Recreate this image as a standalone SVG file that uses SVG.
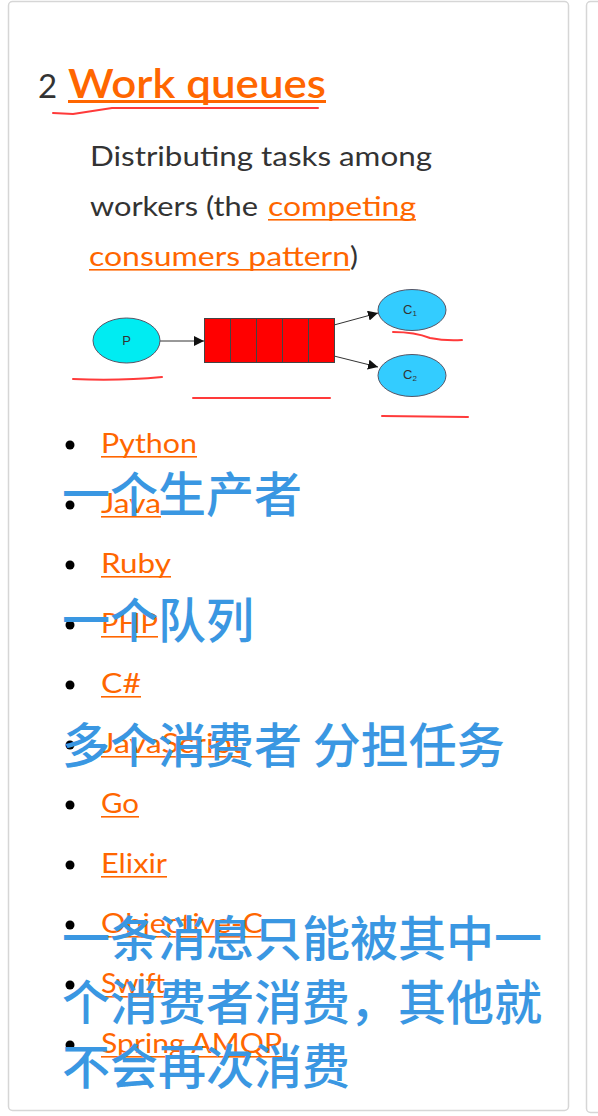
<svg xmlns="http://www.w3.org/2000/svg" width="598" height="1116" viewBox="0 0 598 1116">
<style>
.lat{font-family:"Lato","Liberation Sans",sans-serif}
.dark{fill:#333}
.link{fill:#ff6600}
.ul{fill:#ff6600}
.bul{fill:#000}
.cjk{font-family:"Noto Sans CJK SC","Noto Sans CJK JP",sans-serif;font-size:48px;font-weight:500;fill:#3a97e2}
.red{fill:none;stroke:#ff3a3a;stroke-width:2;stroke-linecap:round;stroke-linejoin:round}
.conn{stroke:#333;stroke-width:1;fill:none}
.lbl{font-family:"Liberation Sans",sans-serif;font-size:13px;fill:#333;text-anchor:middle}
</style>
<defs>
<marker id="ah" viewBox="0 0 10 10" refX="10" refY="5" markerWidth="10" markerHeight="10" markerUnits="userSpaceOnUse" orient="auto">
<path d="M0,0 L10,5 L0,10 z" fill="#111"/>
</marker>
</defs>
<rect x="0" y="0" width="598" height="1116" fill="#fff"/>
<g id="cards">
<rect x="8.5" y="1.5" width="560" height="1109" rx="4" fill="#fff" stroke="#d6d6d6" stroke-width="1.5"/>
<rect x="586.5" y="1.5" width="40" height="1111" rx="4" fill="#fff" stroke="#d6d6d6" stroke-width="1.5"/>
</g>
<g id="title">
<text x="38" y="98" class="lat dark" font-size="33">2</text>
<text x="68" y="98" class="lat link" font-size="41" font-weight="600" textLength="258" lengthAdjust="spacingAndGlyphs">Work queues</text>
<rect x="68" y="100" width="258" height="3" class="ul"/>
<path class="red" d="M53 113 L73 114 L112 108 L318 108"/>
</g>
<g id="description" class="lat" font-size="26">
<text x="90" y="166" class="dark" textLength="342" lengthAdjust="spacingAndGlyphs">Distributing tasks among</text>
<text x="90" y="216" class="dark" textLength="168" lengthAdjust="spacingAndGlyphs">workers (the</text>
<text x="268" y="216" class="link" textLength="148" lengthAdjust="spacingAndGlyphs">competing</text>
<rect x="268" y="219" width="148" height="1.6" class="ul"/>
<text x="89" y="266" class="link" textLength="261" lengthAdjust="spacingAndGlyphs">consumers pattern</text>
<rect x="89" y="269" width="261" height="1.6" class="ul"/>
<text x="350" y="266" class="dark" textLength="8" lengthAdjust="spacingAndGlyphs">)</text>
</g>
<g id="connectors">
<line class="conn" x1="160" y1="341" x2="204" y2="341" marker-end="url(#ah)"/>
<line class="conn" x1="334" y1="325" x2="378" y2="313" marker-end="url(#ah)"/>
<line class="conn" x1="334" y1="356" x2="378" y2="367" marker-end="url(#ah)"/>
</g>
<g id="node-P">
<ellipse cx="126.5" cy="340.5" rx="33.5" ry="22.5" fill="#00ecf2" stroke="#556" stroke-width="1"/>
<text x="126.5" y="345" class="lbl" font-size="14">P</text>
</g>
<g id="node-queue">
<rect x="204.5" y="318.5" width="130" height="44" fill="#ff0000" stroke="#444" stroke-width="1"/>
<path d="M230.5 318.5 V362.5 M256.5 318.5 V362.5 M282.5 318.5 V362.5 M308.5 318.5 V362.5" stroke="#444" stroke-width="1"/>
</g>
<g id="node-C1">
<ellipse cx="412" cy="310" rx="34" ry="20.5" fill="#33ccff" stroke="#556" stroke-width="1"/>
<text x="410" y="314" class="lbl">C<tspan font-size="8" dy="2">1</tspan></text>
</g>
<g id="node-C2">
<ellipse cx="412" cy="375.5" rx="34" ry="21" fill="#33ccff" stroke="#556" stroke-width="1"/>
<text x="410" y="379" class="lbl">C<tspan font-size="8" dy="2">2</tspan></text>
</g>
<g id="annotations-red">
<path class="red" d="M73 379 Q120 381 162 377"/>
<path class="red" d="M193 398 L330 398"/>
<path class="red" d="M393 332 Q415 332 430 338 Q445 341 462 340"/>
<path class="red" d="M382 416 L468 417"/>
</g>
<g id="list" class="lat link" font-size="26">
<circle cx="70" cy="445" r="4.5" class="bul"/><text x="101" y="453" textLength="96" lengthAdjust="spacingAndGlyphs">Python</text><rect x="101" y="456" width="96" height="1.6" class="ul"/>
<circle cx="70" cy="505" r="4.5" class="bul"/><text x="101" y="513" textLength="60" lengthAdjust="spacingAndGlyphs">Java</text><rect x="101" y="516" width="60" height="1.6" class="ul"/>
<circle cx="70" cy="565" r="4.5" class="bul"/><text x="101" y="573" textLength="70" lengthAdjust="spacingAndGlyphs">Ruby</text><rect x="101" y="576" width="70" height="1.6" class="ul"/>
<circle cx="70" cy="625" r="4.5" class="bul"/><text x="101" y="633" textLength="57" lengthAdjust="spacingAndGlyphs">PHP</text><rect x="101" y="636" width="57" height="1.6" class="ul"/>
<circle cx="70" cy="685" r="4.5" class="bul"/><text x="101" y="693" textLength="40" lengthAdjust="spacingAndGlyphs">C#</text><rect x="101" y="696" width="40" height="1.6" class="ul"/>
<circle cx="70" cy="745" r="4.5" class="bul"/><text x="101" y="753" textLength="142" lengthAdjust="spacingAndGlyphs">JavaScript</text><rect x="101" y="756" width="142" height="1.6" class="ul"/>
<circle cx="70" cy="805" r="4.5" class="bul"/><text x="101" y="813" textLength="38" lengthAdjust="spacingAndGlyphs">Go</text><rect x="101" y="816" width="38" height="1.6" class="ul"/>
<circle cx="70" cy="865" r="4.5" class="bul"/><text x="101" y="873" textLength="66" lengthAdjust="spacingAndGlyphs">Elixir</text><rect x="101" y="876" width="66" height="1.6" class="ul"/>
<circle cx="70" cy="925" r="4.5" class="bul"/><text x="101" y="933" textLength="162" lengthAdjust="spacingAndGlyphs">Objective-C</text><rect x="101" y="936" width="162" height="1.6" class="ul"/>
<circle cx="70" cy="985" r="4.5" class="bul"/><text x="101" y="993" textLength="64" lengthAdjust="spacingAndGlyphs">Swift</text><rect x="101" y="996" width="64" height="1.6" class="ul"/>
<circle cx="70" cy="1045" r="4.5" class="bul"/><text x="101" y="1053" textLength="181" lengthAdjust="spacingAndGlyphs">Spring AMQP</text><rect x="101" y="1056" width="181" height="1.6" class="ul"/>
</g>
<g id="notes" class="cjk">
<text x="62" y="512">一个生产者</text>
<text x="62" y="638">一个队列</text>
<text x="62" y="763">多个消费者 分担任务</text>
<text x="62" y="956">一条消息只能被其中一</text>
<text x="62" y="1020">个消费者消费，其他就</text>
<text x="62" y="1084">不会再次消费</text>
</g>
</svg>
